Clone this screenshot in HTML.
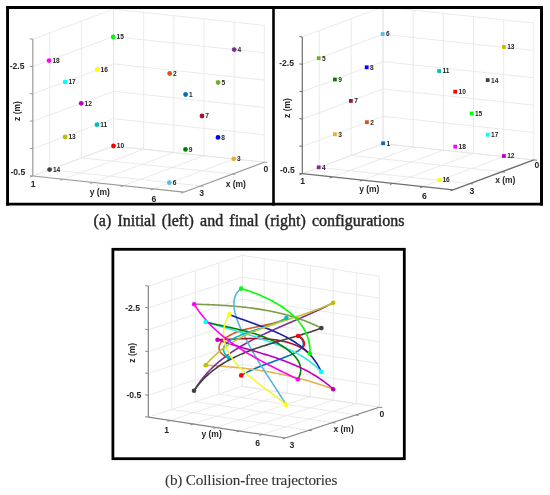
<!DOCTYPE html>
<html><head><meta charset="utf-8"><style>
html,body{margin:0;padding:0;background:#fff;}
body{width:550px;height:495px;position:relative;overflow:hidden;}
svg{position:absolute;left:0;top:0;}
svg text{font-family:"Liberation Sans",Arial,sans-serif;}
.cap{position:absolute;font-family:"Liberation Serif","Times New Roman",serif;color:#262626;-webkit-text-stroke:0.42px #262626;white-space:nowrap;line-height:1;}
</style></head><body>
<svg width="550" height="495" viewBox="0 0 550 495">
<line x1="32.8" y1="176" x2="113.5" y2="146" stroke="#e4e4e4" stroke-width="0.8"/>
<line x1="62.96" y1="179.24" x2="143.66" y2="149.24" stroke="#e4e4e4" stroke-width="0.8"/>
<line x1="93.12" y1="182.48" x2="173.82" y2="152.48" stroke="#e4e4e4" stroke-width="0.8"/>
<line x1="123.28" y1="185.72" x2="203.98" y2="155.72" stroke="#e4e4e4" stroke-width="0.8"/>
<line x1="153.44" y1="188.96" x2="234.14" y2="158.96" stroke="#e4e4e4" stroke-width="0.8"/>
<line x1="183.6" y1="192.2" x2="264.3" y2="162.2" stroke="#e4e4e4" stroke-width="0.8"/>
<line x1="49.75" y1="169.7" x2="200.55" y2="185.9" stroke="#e4e4e4" stroke-width="0.8"/>
<line x1="81.62" y1="157.85" x2="232.42" y2="174.05" stroke="#e4e4e4" stroke-width="0.8"/>
<line x1="113.5" y1="146" x2="264.3" y2="162.2" stroke="#e4e4e4" stroke-width="0.8"/>
<line x1="49.75" y1="169.7" x2="49.75" y2="32.9" stroke="#e4e4e4" stroke-width="0.8"/>
<line x1="81.62" y1="157.85" x2="81.62" y2="21.05" stroke="#e4e4e4" stroke-width="0.8"/>
<line x1="113.5" y1="146" x2="113.5" y2="9.2" stroke="#e4e4e4" stroke-width="0.8"/>
<line x1="32.8" y1="176" x2="113.5" y2="146" stroke="#e4e4e4" stroke-width="0.8"/>
<line x1="32.8" y1="148.64" x2="113.5" y2="118.64" stroke="#e4e4e4" stroke-width="0.8"/>
<line x1="32.8" y1="121.28" x2="113.5" y2="91.28" stroke="#e4e4e4" stroke-width="0.8"/>
<line x1="32.8" y1="93.92" x2="113.5" y2="63.92" stroke="#e4e4e4" stroke-width="0.8"/>
<line x1="32.8" y1="66.56" x2="113.5" y2="36.56" stroke="#e4e4e4" stroke-width="0.8"/>
<line x1="32.8" y1="39.2" x2="113.5" y2="9.2" stroke="#e4e4e4" stroke-width="0.8"/>
<line x1="113.5" y1="146" x2="113.5" y2="9.2" stroke="#e4e4e4" stroke-width="0.8"/>
<line x1="143.66" y1="149.24" x2="143.66" y2="12.44" stroke="#e4e4e4" stroke-width="0.8"/>
<line x1="173.82" y1="152.48" x2="173.82" y2="15.68" stroke="#e4e4e4" stroke-width="0.8"/>
<line x1="203.98" y1="155.72" x2="203.98" y2="18.92" stroke="#e4e4e4" stroke-width="0.8"/>
<line x1="234.14" y1="158.96" x2="234.14" y2="22.16" stroke="#e4e4e4" stroke-width="0.8"/>
<line x1="264.3" y1="162.2" x2="264.3" y2="25.4" stroke="#e4e4e4" stroke-width="0.8"/>
<line x1="113.5" y1="146" x2="264.3" y2="162.2" stroke="#e4e4e4" stroke-width="0.8"/>
<line x1="113.5" y1="118.64" x2="264.3" y2="134.84" stroke="#e4e4e4" stroke-width="0.8"/>
<line x1="113.5" y1="91.28" x2="264.3" y2="107.48" stroke="#e4e4e4" stroke-width="0.8"/>
<line x1="113.5" y1="63.92" x2="264.3" y2="80.12" stroke="#e4e4e4" stroke-width="0.8"/>
<line x1="113.5" y1="36.56" x2="264.3" y2="52.76" stroke="#e4e4e4" stroke-width="0.8"/>
<line x1="113.5" y1="9.2" x2="264.3" y2="25.4" stroke="#e4e4e4" stroke-width="0.8"/>
<line x1="32.8" y1="176" x2="32.8" y2="39.2" stroke="#9a9a9a" stroke-width="1.2"/>
<line x1="32.8" y1="176" x2="183.6" y2="192.2" stroke="#9a9a9a" stroke-width="1.2"/>
<line x1="183.6" y1="192.2" x2="264.3" y2="162.2" stroke="#9a9a9a" stroke-width="1.2"/>
<line x1="32.8" y1="176" x2="29.82" y2="175.68" stroke="#9a9a9a" stroke-width="1.0"/>
<line x1="32.8" y1="148.64" x2="29.82" y2="148.32" stroke="#9a9a9a" stroke-width="1.0"/>
<line x1="32.8" y1="121.28" x2="29.82" y2="120.96" stroke="#9a9a9a" stroke-width="1.0"/>
<line x1="32.8" y1="93.92" x2="29.82" y2="93.6" stroke="#9a9a9a" stroke-width="1.0"/>
<line x1="32.8" y1="66.56" x2="29.82" y2="66.24" stroke="#9a9a9a" stroke-width="1.0"/>
<line x1="32.8" y1="39.2" x2="29.82" y2="38.88" stroke="#9a9a9a" stroke-width="1.0"/>
<line x1="32.8" y1="176" x2="29.99" y2="177.05" stroke="#9a9a9a" stroke-width="1.0"/>
<line x1="62.96" y1="179.24" x2="60.15" y2="180.29" stroke="#9a9a9a" stroke-width="1.0"/>
<line x1="93.12" y1="182.48" x2="90.31" y2="183.53" stroke="#9a9a9a" stroke-width="1.0"/>
<line x1="123.28" y1="185.72" x2="120.47" y2="186.77" stroke="#9a9a9a" stroke-width="1.0"/>
<line x1="153.44" y1="188.96" x2="150.63" y2="190.01" stroke="#9a9a9a" stroke-width="1.0"/>
<line x1="183.6" y1="192.2" x2="180.79" y2="193.25" stroke="#9a9a9a" stroke-width="1.0"/>
<line x1="200.55" y1="185.9" x2="203.53" y2="186.22" stroke="#9a9a9a" stroke-width="1.0"/>
<line x1="232.42" y1="174.05" x2="235.41" y2="174.37" stroke="#9a9a9a" stroke-width="1.0"/>
<line x1="264.3" y1="162.2" x2="267.28" y2="162.52" stroke="#9a9a9a" stroke-width="1.0"/>
<text x="24.5" y="68.56" font-size="8.6" font-weight="bold" text-anchor="end" fill="#262626">-2.5</text>
<text x="25.2" y="175" font-size="8.6" font-weight="bold" text-anchor="end" fill="#262626">-0.5</text>
<text x="33.1" y="186.8" font-size="8.6" font-weight="bold" text-anchor="middle" fill="#262626">1</text>
<text x="153.94" y="201.96" font-size="8.6" font-weight="bold" text-anchor="middle" fill="#262626">6</text>
<text x="201.55" y="195.9" font-size="8.6" font-weight="bold" text-anchor="middle" fill="#262626">3</text>
<text x="266" y="171.8" font-size="8.6" font-weight="bold" text-anchor="middle" fill="#262626">0</text>
<text x="99.8" y="194.5" font-size="8.5" font-weight="bold" text-anchor="middle" fill="#262626">y (m)</text>
<text x="235.8" y="186.8" font-size="8.5" font-weight="bold" text-anchor="middle" fill="#262626">x (m)</text>
<text x="19.8" y="111" font-size="8.5" font-weight="bold" text-anchor="middle" fill="#262626" transform="rotate(-90 19.8 111)">z (m)</text>
<line x1="302.3" y1="173.7" x2="383" y2="143.7" stroke="#e4e4e4" stroke-width="0.8"/>
<line x1="332.46" y1="176.94" x2="413.16" y2="146.94" stroke="#e4e4e4" stroke-width="0.8"/>
<line x1="362.62" y1="180.18" x2="443.32" y2="150.18" stroke="#e4e4e4" stroke-width="0.8"/>
<line x1="392.78" y1="183.42" x2="473.48" y2="153.42" stroke="#e4e4e4" stroke-width="0.8"/>
<line x1="422.94" y1="186.66" x2="503.64" y2="156.66" stroke="#e4e4e4" stroke-width="0.8"/>
<line x1="453.1" y1="189.9" x2="533.8" y2="159.9" stroke="#e4e4e4" stroke-width="0.8"/>
<line x1="319.25" y1="167.4" x2="470.05" y2="183.6" stroke="#e4e4e4" stroke-width="0.8"/>
<line x1="351.12" y1="155.55" x2="501.92" y2="171.75" stroke="#e4e4e4" stroke-width="0.8"/>
<line x1="383" y1="143.7" x2="533.8" y2="159.9" stroke="#e4e4e4" stroke-width="0.8"/>
<line x1="319.25" y1="167.4" x2="319.25" y2="30.6" stroke="#e4e4e4" stroke-width="0.8"/>
<line x1="351.12" y1="155.55" x2="351.12" y2="18.75" stroke="#e4e4e4" stroke-width="0.8"/>
<line x1="383" y1="143.7" x2="383" y2="6.9" stroke="#e4e4e4" stroke-width="0.8"/>
<line x1="302.3" y1="173.7" x2="383" y2="143.7" stroke="#e4e4e4" stroke-width="0.8"/>
<line x1="302.3" y1="146.34" x2="383" y2="116.34" stroke="#e4e4e4" stroke-width="0.8"/>
<line x1="302.3" y1="118.98" x2="383" y2="88.98" stroke="#e4e4e4" stroke-width="0.8"/>
<line x1="302.3" y1="91.62" x2="383" y2="61.62" stroke="#e4e4e4" stroke-width="0.8"/>
<line x1="302.3" y1="64.26" x2="383" y2="34.26" stroke="#e4e4e4" stroke-width="0.8"/>
<line x1="302.3" y1="36.9" x2="383" y2="6.9" stroke="#e4e4e4" stroke-width="0.8"/>
<line x1="383" y1="143.7" x2="383" y2="6.9" stroke="#e4e4e4" stroke-width="0.8"/>
<line x1="413.16" y1="146.94" x2="413.16" y2="10.14" stroke="#e4e4e4" stroke-width="0.8"/>
<line x1="443.32" y1="150.18" x2="443.32" y2="13.38" stroke="#e4e4e4" stroke-width="0.8"/>
<line x1="473.48" y1="153.42" x2="473.48" y2="16.62" stroke="#e4e4e4" stroke-width="0.8"/>
<line x1="503.64" y1="156.66" x2="503.64" y2="19.86" stroke="#e4e4e4" stroke-width="0.8"/>
<line x1="533.8" y1="159.9" x2="533.8" y2="23.1" stroke="#e4e4e4" stroke-width="0.8"/>
<line x1="383" y1="143.7" x2="533.8" y2="159.9" stroke="#e4e4e4" stroke-width="0.8"/>
<line x1="383" y1="116.34" x2="533.8" y2="132.54" stroke="#e4e4e4" stroke-width="0.8"/>
<line x1="383" y1="88.98" x2="533.8" y2="105.18" stroke="#e4e4e4" stroke-width="0.8"/>
<line x1="383" y1="61.62" x2="533.8" y2="77.82" stroke="#e4e4e4" stroke-width="0.8"/>
<line x1="383" y1="34.26" x2="533.8" y2="50.46" stroke="#e4e4e4" stroke-width="0.8"/>
<line x1="383" y1="6.9" x2="533.8" y2="23.1" stroke="#e4e4e4" stroke-width="0.8"/>
<line x1="302.3" y1="173.7" x2="302.3" y2="36.9" stroke="#6e6e6e" stroke-width="1.2"/>
<line x1="302.3" y1="173.7" x2="453.1" y2="189.9" stroke="#6e6e6e" stroke-width="1.2"/>
<line x1="453.1" y1="189.9" x2="533.8" y2="159.9" stroke="#6e6e6e" stroke-width="1.2"/>
<line x1="302.3" y1="173.7" x2="299.32" y2="173.38" stroke="#6e6e6e" stroke-width="1.0"/>
<line x1="302.3" y1="146.34" x2="299.32" y2="146.02" stroke="#6e6e6e" stroke-width="1.0"/>
<line x1="302.3" y1="118.98" x2="299.32" y2="118.66" stroke="#6e6e6e" stroke-width="1.0"/>
<line x1="302.3" y1="91.62" x2="299.32" y2="91.3" stroke="#6e6e6e" stroke-width="1.0"/>
<line x1="302.3" y1="64.26" x2="299.32" y2="63.94" stroke="#6e6e6e" stroke-width="1.0"/>
<line x1="302.3" y1="36.9" x2="299.32" y2="36.58" stroke="#6e6e6e" stroke-width="1.0"/>
<line x1="302.3" y1="173.7" x2="299.49" y2="174.75" stroke="#6e6e6e" stroke-width="1.0"/>
<line x1="332.46" y1="176.94" x2="329.65" y2="177.99" stroke="#6e6e6e" stroke-width="1.0"/>
<line x1="362.62" y1="180.18" x2="359.81" y2="181.23" stroke="#6e6e6e" stroke-width="1.0"/>
<line x1="392.78" y1="183.42" x2="389.97" y2="184.47" stroke="#6e6e6e" stroke-width="1.0"/>
<line x1="422.94" y1="186.66" x2="420.13" y2="187.71" stroke="#6e6e6e" stroke-width="1.0"/>
<line x1="453.1" y1="189.9" x2="450.29" y2="190.95" stroke="#6e6e6e" stroke-width="1.0"/>
<line x1="470.05" y1="183.6" x2="473.03" y2="183.92" stroke="#6e6e6e" stroke-width="1.0"/>
<line x1="501.92" y1="171.75" x2="504.91" y2="172.07" stroke="#6e6e6e" stroke-width="1.0"/>
<line x1="533.8" y1="159.9" x2="536.78" y2="160.22" stroke="#6e6e6e" stroke-width="1.0"/>
<text x="294" y="66.26" font-size="8.6" font-weight="bold" text-anchor="end" fill="#262626">-2.5</text>
<text x="294.7" y="172.7" font-size="8.6" font-weight="bold" text-anchor="end" fill="#262626">-0.5</text>
<text x="302.6" y="183.5" font-size="8.6" font-weight="bold" text-anchor="middle" fill="#262626">1</text>
<text x="424.44" y="198.86" font-size="8.6" font-weight="bold" text-anchor="middle" fill="#262626">6</text>
<text x="471.85" y="193.6" font-size="8.6" font-weight="bold" text-anchor="middle" fill="#262626">3</text>
<text x="537" y="167.7" font-size="8.6" font-weight="bold" text-anchor="middle" fill="#262626">0</text>
<text x="369.3" y="192.2" font-size="8.5" font-weight="bold" text-anchor="middle" fill="#262626">y (m)</text>
<text x="505.3" y="182.5" font-size="8.5" font-weight="bold" text-anchor="middle" fill="#262626">x (m)</text>
<text x="290.1" y="108" font-size="8.5" font-weight="bold" text-anchor="middle" fill="#262626" transform="rotate(-90 290.1 108)">z (m)</text>
<circle cx="185.6" cy="94.5" r="2.4" fill="#0072BD"/>
<text x="188.9" y="96.9" font-size="6.6" font-weight="bold" text-anchor="start" fill="#262626">1</text>
<circle cx="169.7" cy="73.5" r="2.4" fill="#D95319"/>
<text x="173" y="75.9" font-size="6.6" font-weight="bold" text-anchor="start" fill="#262626">2</text>
<circle cx="233.8" cy="158.8" r="2.4" fill="#EDB120"/>
<text x="237.1" y="161.2" font-size="6.6" font-weight="bold" text-anchor="start" fill="#262626">3</text>
<circle cx="234.2" cy="49.6" r="2.4" fill="#7E2F8E"/>
<text x="237.5" y="52" font-size="6.6" font-weight="bold" text-anchor="start" fill="#262626">4</text>
<circle cx="218.1" cy="82.5" r="2.4" fill="#77AC30"/>
<text x="221.4" y="84.9" font-size="6.6" font-weight="bold" text-anchor="start" fill="#262626">5</text>
<circle cx="169.4" cy="182.7" r="2.4" fill="#4DBEEE"/>
<text x="172.7" y="185.1" font-size="6.6" font-weight="bold" text-anchor="start" fill="#262626">6</text>
<circle cx="202" cy="116" r="2.4" fill="#A2142F"/>
<text x="205.3" y="118.4" font-size="6.6" font-weight="bold" text-anchor="start" fill="#262626">7</text>
<circle cx="218" cy="137.4" r="2.4" fill="#0000FF"/>
<text x="221.3" y="139.8" font-size="6.6" font-weight="bold" text-anchor="start" fill="#262626">8</text>
<circle cx="185.5" cy="149.4" r="2.4" fill="#008000"/>
<text x="188.8" y="151.8" font-size="6.6" font-weight="bold" text-anchor="start" fill="#262626">9</text>
<circle cx="113.5" cy="146" r="2.4" fill="#FF0000"/>
<text x="116.8" y="148.4" font-size="6.6" font-weight="bold" text-anchor="start" fill="#262626">10</text>
<circle cx="97" cy="124.7" r="2.4" fill="#00BFBF"/>
<text x="100.3" y="127.1" font-size="6.6" font-weight="bold" text-anchor="start" fill="#262626">11</text>
<circle cx="81.2" cy="103.3" r="2.4" fill="#BF00BF"/>
<text x="84.5" y="105.7" font-size="6.6" font-weight="bold" text-anchor="start" fill="#262626">12</text>
<circle cx="65.1" cy="136.9" r="2.4" fill="#BFBF00"/>
<text x="68.4" y="139.3" font-size="6.6" font-weight="bold" text-anchor="start" fill="#262626">13</text>
<circle cx="49.6" cy="169.6" r="2.4" fill="#404040"/>
<text x="52.9" y="172" font-size="6.6" font-weight="bold" text-anchor="start" fill="#262626">14</text>
<circle cx="113.2" cy="36.9" r="2.4" fill="#00FF00"/>
<text x="116.5" y="39.3" font-size="6.6" font-weight="bold" text-anchor="start" fill="#262626">15</text>
<circle cx="97.2" cy="69.5" r="2.4" fill="#FFFF00"/>
<text x="100.5" y="71.9" font-size="6.6" font-weight="bold" text-anchor="start" fill="#262626">16</text>
<circle cx="65.1" cy="81.9" r="2.4" fill="#00FFFF"/>
<text x="68.4" y="84.3" font-size="6.6" font-weight="bold" text-anchor="start" fill="#262626">17</text>
<circle cx="49.1" cy="60.6" r="2.4" fill="#FF00FF"/>
<text x="52.4" y="63" font-size="6.6" font-weight="bold" text-anchor="start" fill="#262626">18</text>
<rect x="381.2" y="141.4" width="3.8" height="3.8" fill="#0072BD"/>
<text x="386.4" y="145.7" font-size="6.6" font-weight="bold" text-anchor="start" fill="#262626">1</text>
<rect x="365" y="120.3" width="3.8" height="3.8" fill="#D95319"/>
<text x="370.2" y="124.6" font-size="6.6" font-weight="bold" text-anchor="start" fill="#262626">2</text>
<rect x="333" y="132.3" width="3.8" height="3.8" fill="#EDB120"/>
<text x="338.2" y="136.6" font-size="6.6" font-weight="bold" text-anchor="start" fill="#262626">3</text>
<rect x="316.8" y="165.4" width="3.8" height="3.8" fill="#7E2F8E"/>
<text x="322" y="169.7" font-size="6.6" font-weight="bold" text-anchor="start" fill="#262626">4</text>
<rect x="316.8" y="56.3" width="3.8" height="3.8" fill="#77AC30"/>
<text x="322" y="60.6" font-size="6.6" font-weight="bold" text-anchor="start" fill="#262626">5</text>
<rect x="380.8" y="32.1" width="3.8" height="3.8" fill="#4DBEEE"/>
<text x="386" y="36.4" font-size="6.6" font-weight="bold" text-anchor="start" fill="#262626">6</text>
<rect x="349" y="99" width="3.8" height="3.8" fill="#A2142F"/>
<text x="354.2" y="103.3" font-size="6.6" font-weight="bold" text-anchor="start" fill="#262626">7</text>
<rect x="364.8" y="65.4" width="3.8" height="3.8" fill="#0000FF"/>
<text x="370" y="69.7" font-size="6.6" font-weight="bold" text-anchor="start" fill="#262626">8</text>
<rect x="333" y="77.6" width="3.8" height="3.8" fill="#008000"/>
<text x="338.2" y="81.9" font-size="6.6" font-weight="bold" text-anchor="start" fill="#262626">9</text>
<rect x="453.3" y="89.8" width="3.8" height="3.8" fill="#FF0000"/>
<text x="458.5" y="94.1" font-size="6.6" font-weight="bold" text-anchor="start" fill="#262626">10</text>
<rect x="437.2" y="69.1" width="3.8" height="3.8" fill="#00BFBF"/>
<text x="442.4" y="73.4" font-size="6.6" font-weight="bold" text-anchor="start" fill="#262626">11</text>
<rect x="502" y="154.1" width="3.8" height="3.8" fill="#BF00BF"/>
<text x="507.2" y="158.4" font-size="6.6" font-weight="bold" text-anchor="start" fill="#262626">12</text>
<rect x="502" y="45.1" width="3.8" height="3.8" fill="#BFBF00"/>
<text x="507.2" y="49.4" font-size="6.6" font-weight="bold" text-anchor="start" fill="#262626">13</text>
<rect x="485.8" y="78.2" width="3.8" height="3.8" fill="#404040"/>
<text x="491" y="82.5" font-size="6.6" font-weight="bold" text-anchor="start" fill="#262626">14</text>
<rect x="469.7" y="111.6" width="3.8" height="3.8" fill="#00FF00"/>
<text x="474.9" y="115.9" font-size="6.6" font-weight="bold" text-anchor="start" fill="#262626">15</text>
<rect x="437.2" y="178.1" width="3.8" height="3.8" fill="#FFFF00"/>
<text x="442.4" y="182.4" font-size="6.6" font-weight="bold" text-anchor="start" fill="#262626">16</text>
<rect x="485.8" y="132.8" width="3.8" height="3.8" fill="#00FFFF"/>
<text x="491" y="137.1" font-size="6.6" font-weight="bold" text-anchor="start" fill="#262626">17</text>
<rect x="453.3" y="144.7" width="3.8" height="3.8" fill="#FF00FF"/>
<text x="458.5" y="149" font-size="6.6" font-weight="bold" text-anchor="start" fill="#262626">18</text>
<line x1="170.22" y1="420.44" x2="264.22" y2="389.64" stroke="#e4e4e4" stroke-width="0.8"/>
<line x1="193.24" y1="423.96" x2="287.24" y2="393.16" stroke="#e4e4e4" stroke-width="0.8"/>
<line x1="216.25" y1="427.47" x2="310.25" y2="396.67" stroke="#e4e4e4" stroke-width="0.8"/>
<line x1="239.27" y1="430.98" x2="333.27" y2="400.18" stroke="#e4e4e4" stroke-width="0.8"/>
<line x1="262.28" y1="434.49" x2="356.28" y2="403.69" stroke="#e4e4e4" stroke-width="0.8"/>
<line x1="285.3" y1="438" x2="379.3" y2="407.2" stroke="#e4e4e4" stroke-width="0.8"/>
<line x1="171.8" y1="409.4" x2="308.8" y2="430.3" stroke="#e4e4e4" stroke-width="0.8"/>
<line x1="195.3" y1="401.7" x2="332.3" y2="422.6" stroke="#e4e4e4" stroke-width="0.8"/>
<line x1="218.8" y1="394" x2="355.8" y2="414.9" stroke="#e4e4e4" stroke-width="0.8"/>
<line x1="242.3" y1="386.3" x2="379.3" y2="407.2" stroke="#e4e4e4" stroke-width="0.8"/>
<line x1="171.8" y1="409.4" x2="171.8" y2="278.4" stroke="#e4e4e4" stroke-width="0.8"/>
<line x1="195.3" y1="401.7" x2="195.3" y2="270.7" stroke="#e4e4e4" stroke-width="0.8"/>
<line x1="218.8" y1="394" x2="218.8" y2="263" stroke="#e4e4e4" stroke-width="0.8"/>
<line x1="242.3" y1="386.3" x2="242.3" y2="255.3" stroke="#e4e4e4" stroke-width="0.8"/>
<line x1="148.3" y1="417.1" x2="242.3" y2="386.3" stroke="#e4e4e4" stroke-width="0.8"/>
<line x1="148.3" y1="395.27" x2="242.3" y2="364.47" stroke="#e4e4e4" stroke-width="0.8"/>
<line x1="148.3" y1="373.43" x2="242.3" y2="342.63" stroke="#e4e4e4" stroke-width="0.8"/>
<line x1="148.3" y1="351.6" x2="242.3" y2="320.8" stroke="#e4e4e4" stroke-width="0.8"/>
<line x1="148.3" y1="329.77" x2="242.3" y2="298.97" stroke="#e4e4e4" stroke-width="0.8"/>
<line x1="148.3" y1="307.93" x2="242.3" y2="277.13" stroke="#e4e4e4" stroke-width="0.8"/>
<line x1="148.3" y1="286.1" x2="242.3" y2="255.3" stroke="#e4e4e4" stroke-width="0.8"/>
<line x1="264.22" y1="389.64" x2="264.22" y2="258.64" stroke="#e4e4e4" stroke-width="0.8"/>
<line x1="287.24" y1="393.16" x2="287.24" y2="262.16" stroke="#e4e4e4" stroke-width="0.8"/>
<line x1="310.25" y1="396.67" x2="310.25" y2="265.67" stroke="#e4e4e4" stroke-width="0.8"/>
<line x1="333.27" y1="400.18" x2="333.27" y2="269.18" stroke="#e4e4e4" stroke-width="0.8"/>
<line x1="356.28" y1="403.69" x2="356.28" y2="272.69" stroke="#e4e4e4" stroke-width="0.8"/>
<line x1="379.3" y1="407.2" x2="379.3" y2="276.2" stroke="#e4e4e4" stroke-width="0.8"/>
<line x1="242.3" y1="386.3" x2="379.3" y2="407.2" stroke="#e4e4e4" stroke-width="0.8"/>
<line x1="242.3" y1="364.47" x2="379.3" y2="385.37" stroke="#e4e4e4" stroke-width="0.8"/>
<line x1="242.3" y1="342.63" x2="379.3" y2="363.53" stroke="#e4e4e4" stroke-width="0.8"/>
<line x1="242.3" y1="320.8" x2="379.3" y2="341.7" stroke="#e4e4e4" stroke-width="0.8"/>
<line x1="242.3" y1="298.97" x2="379.3" y2="319.87" stroke="#e4e4e4" stroke-width="0.8"/>
<line x1="242.3" y1="277.13" x2="379.3" y2="298.03" stroke="#e4e4e4" stroke-width="0.8"/>
<line x1="242.3" y1="255.3" x2="379.3" y2="276.2" stroke="#e4e4e4" stroke-width="0.8"/>
<line x1="148.3" y1="417.1" x2="148.3" y2="286.1" stroke="#858585" stroke-width="1.2"/>
<line x1="148.3" y1="417.1" x2="285.3" y2="438" stroke="#858585" stroke-width="1.2"/>
<line x1="285.3" y1="438" x2="379.3" y2="407.2" stroke="#858585" stroke-width="1.2"/>
<line x1="148.3" y1="417.1" x2="145.33" y2="416.65" stroke="#858585" stroke-width="1.0"/>
<line x1="148.3" y1="395.27" x2="145.33" y2="394.81" stroke="#858585" stroke-width="1.0"/>
<line x1="148.3" y1="373.43" x2="145.33" y2="372.98" stroke="#858585" stroke-width="1.0"/>
<line x1="148.3" y1="351.6" x2="145.33" y2="351.15" stroke="#858585" stroke-width="1.0"/>
<line x1="148.3" y1="329.77" x2="145.33" y2="329.31" stroke="#858585" stroke-width="1.0"/>
<line x1="148.3" y1="307.93" x2="145.33" y2="307.48" stroke="#858585" stroke-width="1.0"/>
<line x1="148.3" y1="286.1" x2="145.33" y2="285.65" stroke="#858585" stroke-width="1.0"/>
<line x1="170.22" y1="420.44" x2="167.37" y2="421.38" stroke="#858585" stroke-width="1.0"/>
<line x1="193.24" y1="423.96" x2="190.39" y2="424.89" stroke="#858585" stroke-width="1.0"/>
<line x1="216.25" y1="427.47" x2="213.4" y2="428.4" stroke="#858585" stroke-width="1.0"/>
<line x1="239.27" y1="430.98" x2="236.42" y2="431.91" stroke="#858585" stroke-width="1.0"/>
<line x1="262.28" y1="434.49" x2="259.43" y2="435.42" stroke="#858585" stroke-width="1.0"/>
<line x1="285.3" y1="438" x2="282.45" y2="438.93" stroke="#858585" stroke-width="1.0"/>
<line x1="308.8" y1="430.3" x2="311.77" y2="430.75" stroke="#858585" stroke-width="1.0"/>
<line x1="332.3" y1="422.6" x2="335.27" y2="423.05" stroke="#858585" stroke-width="1.0"/>
<line x1="355.8" y1="414.9" x2="358.77" y2="415.35" stroke="#858585" stroke-width="1.0"/>
<line x1="379.3" y1="407.2" x2="382.27" y2="407.65" stroke="#858585" stroke-width="1.0"/>
<text x="140" y="311" font-size="8.6" font-weight="bold" text-anchor="end" fill="#262626">-2.5</text>
<text x="141.2" y="398.3" font-size="8.6" font-weight="bold" text-anchor="end" fill="#262626">-0.5</text>
<text x="166.6" y="432.7" font-size="8.6" font-weight="bold" text-anchor="middle" fill="#262626">1</text>
<text x="257.6" y="446.3" font-size="8.6" font-weight="bold" text-anchor="middle" fill="#262626">6</text>
<text x="291.8" y="447.5" font-size="8.6" font-weight="bold" text-anchor="middle" fill="#262626">3</text>
<text x="381.9" y="416.8" font-size="8.6" font-weight="bold" text-anchor="middle" fill="#262626">0</text>
<text x="211.6" y="436.7" font-size="8.5" font-weight="bold" text-anchor="middle" fill="#262626">y (m)</text>
<text x="343.6" y="431.7" font-size="8.5" font-weight="bold" text-anchor="middle" fill="#262626">x (m)</text>
<text x="135" y="352.8" font-size="8.5" font-weight="bold" text-anchor="middle" fill="#262626" transform="rotate(-90 135 352.8)">z (m)</text>
<g stroke-linecap="round" stroke-linejoin="round">
<path d="M298.1,336 L299.23,336.85 L300.21,337.69 L301.04,338.53 L301.73,339.35 L302.29,340.16 L302.73,340.96 L303.04,341.75 L303.23,342.52 L303.32,343.28 L303.3,344.02 L303.18,344.75 L302.97,345.46 L302.67,346.16 L302.3,346.83 L301.84,347.49 L301.31,348.14 L300.72,348.76 L300.06,349.37 L299.35,349.97 L298.58,350.55 L297.76,351.11 L296.9,351.66 L295.99,352.2 L295.05,352.72 L294.07,353.23 L293.07,353.73 L292.04,354.21 L291,354.69 L289.94,355.15 L288.87,355.61 L287.79,356.05 L286.72,356.49 L285.64,356.92 L284.57,357.34 L283.51,357.75 L282.46,358.16 L281.41,358.55 L280.37,358.95 L279.34,359.33 L278.32,359.71 L277.3,360.09 L276.28,360.46 L275.28,360.83 L274.28,361.2 L273.28,361.56 L272.29,361.92 L271.31,362.27 L270.33,362.63 L269.35,362.98 L268.38,363.34 L267.42,363.69 L266.45,364.05 L265.5,364.4 L264.54,364.76 L263.59,365.12 L262.64,365.47 L261.7,365.84 L260.75,366.2 L259.81,366.57 L258.88,366.94 L257.94,367.32 L257.01,367.7 L256.07,368.09 L255.14,368.49 L254.21,368.89 L253.28,369.29 L252.36,369.71 L251.43,370.13 L250.5,370.56 L249.57,370.99 L248.65,371.44 L247.72,371.9 L246.79,372.37 L245.86,372.84 L244.93,373.33 L244,373.83 L243.07,374.34 L242.14,374.86 L241.2,375.4" fill="none" stroke="#0072BD" stroke-width="1.6"/>
<path d="M286.4,318.1 L285.4,318.64 L284.38,319.16 L283.36,319.65 L282.32,320.12 L281.27,320.57 L280.21,321 L279.13,321.4 L278.05,321.79 L276.96,322.16 L275.86,322.52 L274.75,322.86 L273.63,323.18 L272.5,323.49 L271.37,323.79 L270.23,324.07 L269.09,324.35 L267.94,324.61 L266.78,324.87 L265.62,325.12 L264.46,325.37 L263.29,325.6 L262.12,325.84 L260.95,326.07 L259.78,326.3 L258.61,326.53 L257.43,326.76 L256.26,326.99 L255.09,327.22 L253.92,327.45 L252.74,327.69 L251.58,327.93 L250.41,328.18 L249.25,328.44 L248.09,328.71 L246.94,328.98 L245.79,329.27 L244.64,329.56 L243.51,329.87 L242.38,330.2 L241.25,330.53 L240.13,330.89 L239.03,331.26 L237.93,331.65 L236.84,332.05 L235.75,332.48 L234.68,332.93 L233.62,333.4 L232.58,333.89 L231.54,334.4 L230.51,334.95 L229.5,335.51 L228.5,336.11 L227.52,336.73 L226.55,337.38 L225.61,338.06 L224.69,338.77 L223.81,339.5 L222.98,340.26 L222.21,341.04 L221.5,341.85 L220.86,342.67 L220.3,343.51 L219.83,344.37 L219.46,345.25 L219.19,346.14 L219.04,347.05 L219.01,347.97 L219.12,348.9 L219.36,349.84 L219.75,350.79 L220.28,351.74 L220.95,352.67 L221.75,353.58 L222.66,354.45 L223.7,355.27 L224.83,356.03 L226.07,356.71 L227.39,357.31 L228.8,357.8" fill="none" stroke="#D95319" stroke-width="1.6"/>
<path d="M333.2,389.2 L331.65,388.61 L330.09,388.03 L328.53,387.46 L326.97,386.9 L325.41,386.35 L323.85,385.8 L322.28,385.27 L320.71,384.74 L319.15,384.23 L317.58,383.72 L316,383.22 L314.43,382.72 L312.85,382.24 L311.28,381.76 L309.7,381.3 L308.12,380.84 L306.53,380.39 L304.95,379.94 L303.36,379.51 L301.78,379.08 L300.19,378.66 L298.6,378.25 L297,377.84 L295.41,377.45 L293.82,377.06 L292.22,376.67 L290.62,376.3 L289.02,375.93 L287.42,375.57 L285.82,375.22 L284.21,374.87 L282.6,374.53 L281,374.2 L279.39,373.88 L277.78,373.56 L276.17,373.25 L274.55,372.94 L272.94,372.64 L271.32,372.35 L269.71,372.07 L268.09,371.79 L266.47,371.51 L264.84,371.25 L263.22,370.99 L261.6,370.73 L259.97,370.48 L258.35,370.24 L256.72,370 L255.09,369.77 L253.46,369.55 L251.83,369.33 L250.19,369.12 L248.56,368.91 L246.93,368.7 L245.29,368.51 L243.65,368.32 L242.01,368.13 L240.37,367.95 L238.73,367.77 L237.09,367.6 L235.45,367.43 L233.8,367.27 L232.16,367.11 L230.51,366.96 L228.86,366.81 L227.22,366.67 L225.57,366.53 L223.92,366.4 L222.27,366.27 L220.61,366.14 L218.96,366.02 L217.31,365.91 L215.65,365.79 L213.99,365.69 L212.34,365.58 L210.68,365.48 L209.02,365.38 L207.36,365.29 L205.7,365.2" fill="none" stroke="#e2b450" stroke-width="1.6"/>
<path d="M333.2,302.7 L331.38,303.67 L329.55,304.62 L327.71,305.56 L325.86,306.49 L323.99,307.41 L322.12,308.32 L320.23,309.23 L318.33,310.12 L316.43,311.01 L314.51,311.89 L312.59,312.77 L310.66,313.64 L308.72,314.5 L306.78,315.36 L304.83,316.22 L302.87,317.07 L300.91,317.92 L298.95,318.77 L296.98,319.62 L295.01,320.46 L293.04,321.31 L291.06,322.16 L289.09,323 L287.11,323.85 L285.13,324.71 L283.16,325.56 L281.18,326.42 L279.21,327.28 L277.24,328.15 L275.27,329.02 L273.3,329.9 L271.34,330.78 L269.39,331.67 L267.43,332.57 L265.49,333.48 L263.55,334.4 L261.61,335.32 L259.69,336.26 L257.77,337.21 L255.86,338.17 L253.96,339.14 L252.06,340.12 L250.18,341.11 L248.31,342.12 L246.45,343.15 L244.6,344.19 L242.77,345.24 L240.95,346.31 L239.14,347.4 L237.34,348.5 L235.56,349.63 L233.8,350.77 L232.05,351.93 L230.32,353.11 L228.6,354.31 L226.9,355.53 L225.22,356.77 L223.56,358.04 L221.92,359.33 L220.3,360.64 L218.7,361.97 L217.12,363.33 L215.56,364.72 L214.02,366.13 L212.5,367.57 L211.01,369.03 L209.54,370.52 L208.1,372.04 L206.68,373.59 L205.29,375.17 L203.92,376.78 L202.58,378.42 L201.27,380.09 L199.99,381.79 L198.73,383.52 L197.5,385.29 L196.3,387.09 L195.13,388.93 L194,390.8" fill="none" stroke="#7E2F8E" stroke-width="1.6"/>
<path d="M321.4,328.1 L319.94,327.36 L318.46,326.64 L316.98,325.94 L315.5,325.25 L314,324.58 L312.5,323.92 L311,323.28 L309.49,322.65 L307.97,322.03 L306.44,321.43 L304.91,320.84 L303.38,320.27 L301.84,319.71 L300.29,319.16 L298.74,318.63 L297.18,318.11 L295.62,317.6 L294.05,317.11 L292.48,316.62 L290.9,316.15 L289.32,315.7 L287.73,315.25 L286.14,314.82 L284.55,314.39 L282.95,313.98 L281.35,313.58 L279.74,313.2 L278.13,312.82 L276.52,312.45 L274.9,312.1 L273.28,311.75 L271.66,311.42 L270.03,311.09 L268.4,310.78 L266.77,310.47 L265.14,310.18 L263.5,309.89 L261.86,309.62 L260.22,309.35 L258.58,309.09 L256.93,308.84 L255.28,308.6 L253.63,308.37 L251.98,308.15 L250.33,307.93 L248.68,307.72 L247.02,307.52 L245.37,307.33 L243.71,307.14 L242.05,306.97 L240.39,306.8 L238.73,306.63 L237.07,306.47 L235.41,306.32 L233.75,306.18 L232.09,306.04 L230.43,305.91 L228.77,305.78 L227.12,305.66 L225.46,305.55 L223.8,305.44 L222.14,305.34 L220.48,305.24 L218.83,305.14 L217.17,305.05 L215.52,304.97 L213.87,304.89 L212.22,304.81 L210.57,304.74 L208.92,304.67 L207.28,304.61 L205.63,304.54 L203.99,304.49 L202.35,304.43 L200.72,304.38 L199.08,304.33 L197.45,304.28 L195.83,304.24 L194.2,304.2" fill="none" stroke="#7d9c48" stroke-width="1.6"/>
<path d="M286.2,404.9 L285.28,403.39 L284.35,401.89 L283.43,400.4 L282.51,398.92 L281.58,397.45 L280.66,395.99 L279.74,394.54 L278.82,393.1 L277.9,391.66 L276.98,390.23 L276.06,388.81 L275.14,387.4 L274.23,385.99 L273.32,384.58 L272.41,383.18 L271.5,381.78 L270.59,380.39 L269.68,379 L268.78,377.61 L267.88,376.22 L266.98,374.83 L266.09,373.45 L265.19,372.06 L264.3,370.68 L263.42,369.29 L262.53,367.9 L261.65,366.51 L260.78,365.11 L259.9,363.71 L259.03,362.31 L258.17,360.91 L257.31,359.49 L256.45,358.08 L255.6,356.65 L254.75,355.22 L253.9,353.79 L253.06,352.34 L252.23,350.89 L251.4,349.43 L250.57,347.96 L249.75,346.48 L248.94,344.98 L248.13,343.48 L247.32,341.97 L246.52,340.44 L245.73,338.9 L244.94,337.35 L244.16,335.78 L243.39,334.2 L242.62,332.6 L241.86,330.99 L241.1,329.36 L240.36,327.72 L239.64,326.07 L238.93,324.41 L238.25,322.75 L237.61,321.08 L237,319.41 L236.43,317.74 L235.9,316.07 L235.43,314.41 L235.01,312.76 L234.65,311.12 L234.35,309.49 L234.12,307.88 L233.97,306.28 L233.89,304.71 L233.9,303.15 L234,301.62 L234.19,300.12 L234.48,298.65 L234.87,297.21 L235.37,295.82 L236,294.46 L236.75,293.16 L237.63,291.92 L238.67,290.74 L239.85,289.63 L241.2,288.6" fill="none" stroke="#58b6dc" stroke-width="1.6"/>
<path d="M309.8,353.5 L308.84,352.75 L307.87,352.03 L306.89,351.33 L305.89,350.65 L304.89,350 L303.88,349.37 L302.85,348.76 L301.82,348.17 L300.78,347.61 L299.73,347.06 L298.66,346.54 L297.6,346.04 L296.52,345.56 L295.43,345.1 L294.34,344.65 L293.23,344.23 L292.12,343.83 L291.01,343.44 L289.88,343.07 L288.75,342.72 L287.61,342.39 L286.46,342.07 L285.31,341.77 L284.16,341.49 L282.99,341.22 L281.82,340.96 L280.65,340.73 L279.47,340.5 L278.28,340.29 L277.09,340.1 L275.9,339.91 L274.7,339.75 L273.5,339.59 L272.29,339.45 L271.08,339.31 L269.86,339.19 L268.65,339.08 L267.43,338.98 L266.2,338.9 L264.98,338.82 L263.75,338.75 L262.52,338.69 L261.29,338.64 L260.05,338.6 L258.82,338.57 L257.58,338.54 L256.34,338.53 L255.1,338.52 L253.86,338.51 L252.62,338.51 L251.38,338.52 L250.14,338.54 L248.9,338.56 L247.67,338.58 L246.43,338.61 L245.19,338.64 L243.95,338.68 L242.72,338.72 L241.49,338.77 L240.25,338.81 L239.03,338.86 L237.8,338.91 L236.57,338.96 L235.35,339.02 L234.13,339.07 L232.92,339.12 L231.7,339.18 L230.5,339.23 L229.29,339.29 L228.09,339.34 L226.89,339.39 L225.7,339.44 L224.51,339.48 L223.33,339.53 L222.15,339.57 L220.98,339.61 L219.82,339.64 L218.66,339.67 L217.5,339.7" fill="none" stroke="#A2142F" stroke-width="1.6"/>
<path d="M321.2,371.9 L320.6,370.55 L319.97,369.23 L319.31,367.93 L318.63,366.66 L317.92,365.41 L317.19,364.19 L316.44,363 L315.66,361.82 L314.86,360.67 L314.03,359.55 L313.18,358.44 L312.31,357.36 L311.42,356.3 L310.51,355.27 L309.58,354.25 L308.63,353.25 L307.66,352.28 L306.67,351.32 L305.66,350.38 L304.63,349.47 L303.59,348.57 L302.53,347.69 L301.45,346.82 L300.35,345.98 L299.24,345.15 L298.12,344.34 L296.98,343.54 L295.83,342.76 L294.66,342 L293.48,341.25 L292.29,340.52 L291.08,339.79 L289.86,339.09 L288.64,338.39 L287.4,337.71 L286.15,337.05 L284.89,336.39 L283.62,335.75 L282.34,335.11 L281.05,334.49 L279.76,333.88 L278.46,333.28 L277.15,332.69 L275.83,332.1 L274.51,331.53 L273.19,330.97 L271.85,330.41 L270.52,329.86 L269.18,329.32 L267.83,328.78 L266.48,328.25 L265.13,327.73 L263.78,327.21 L262.43,326.7 L261.07,326.19 L259.72,325.69 L258.36,325.19 L257,324.7 L255.65,324.2 L254.29,323.71 L252.94,323.23 L251.59,322.74 L250.24,322.26 L248.89,321.78 L247.55,321.29 L246.21,320.81 L244.88,320.33 L243.55,319.85 L242.23,319.37 L240.91,318.88 L239.6,318.4 L238.3,317.91 L237,317.42 L235.71,316.93 L234.43,316.43 L233.16,315.93 L231.9,315.42 L230.64,314.91 L229.4,314.4" fill="none" stroke="#1e1ea8" stroke-width="1.6"/>
<path d="M205.6,322 L207.11,322.44 L208.62,322.89 L210.14,323.33 L211.66,323.78 L213.19,324.22 L214.72,324.67 L216.25,325.11 L217.79,325.56 L219.33,326 L220.87,326.45 L222.41,326.9 L223.96,327.35 L225.51,327.8 L227.06,328.25 L228.61,328.7 L230.17,329.15 L231.72,329.61 L233.28,330.07 L234.84,330.53 L236.4,330.99 L237.96,331.46 L239.52,331.93 L241.08,332.4 L242.64,332.87 L244.2,333.35 L245.76,333.83 L247.32,334.32 L248.88,334.8 L250.44,335.3 L252,335.79 L253.56,336.29 L255.11,336.8 L256.67,337.31 L258.22,337.82 L259.77,338.34 L261.32,338.86 L262.87,339.39 L264.41,339.93 L265.96,340.47 L267.5,341.01 L269.03,341.56 L270.57,342.12 L272.1,342.69 L273.62,343.26 L275.15,343.83 L276.66,344.42 L278.18,345.01 L279.69,345.6 L281.2,346.21 L282.69,346.82 L284.19,347.45 L285.67,348.08 L287.15,348.73 L288.63,349.39 L290.09,350.06 L291.54,350.74 L292.99,351.44 L294.42,352.15 L295.84,352.88 L297.26,353.63 L298.66,354.39 L300.04,355.17 L301.42,355.97 L302.78,356.79 L304.13,357.63 L305.46,358.49 L306.78,359.37 L308.08,360.27 L309.37,361.2 L310.63,362.15 L311.89,363.12 L313.12,364.12 L314.33,365.15 L315.53,366.2 L316.71,367.28 L317.86,368.39 L319,369.53 L320.11,370.7 L321.2,371.9" fill="none" stroke="#2ee8e8" stroke-width="1.6"/>
<path d="M297.9,379.3 L298.76,377.71 L299.46,376.15 L300,374.62 L300.38,373.12 L300.63,371.65 L300.73,370.21 L300.71,368.8 L300.56,367.41 L300.3,366.06 L299.92,364.73 L299.44,363.44 L298.86,362.17 L298.2,360.93 L297.45,359.72 L296.62,358.53 L295.72,357.38 L294.76,356.25 L293.74,355.15 L292.67,354.08 L291.56,353.04 L290.41,352.02 L289.23,351.03 L288.03,350.07 L286.81,349.13 L285.56,348.22 L284.29,347.33 L283.01,346.47 L281.7,345.64 L280.38,344.83 L279.04,344.04 L277.68,343.27 L276.3,342.52 L274.91,341.8 L273.5,341.1 L272.08,340.42 L270.64,339.75 L269.19,339.11 L267.73,338.49 L266.26,337.88 L264.78,337.29 L263.28,336.72 L261.78,336.16 L260.26,335.62 L258.74,335.1 L257.21,334.59 L255.68,334.09 L254.14,333.61 L252.59,333.14 L251.04,332.69 L249.48,332.24 L247.92,331.81 L246.36,331.39 L244.79,330.97 L243.22,330.57 L241.66,330.18 L240.09,329.79 L238.52,329.42 L236.96,329.05 L235.39,328.68 L233.83,328.33 L232.27,327.98 L230.72,327.63 L229.17,327.29 L227.63,326.95 L226.09,326.62 L224.56,326.29 L223.04,325.96 L221.52,325.63 L220.02,325.31 L218.52,324.98 L217.04,324.66 L215.56,324.33 L214.1,324.01 L212.65,323.68 L211.21,323.35 L209.79,323.02 L208.38,322.68 L206.98,322.34 L205.6,322" fill="none" stroke="#008000" stroke-width="1.6"/>
<path d="M303,347.5 L303.13,347.33 L303.25,347.16 L303.37,346.99 L303.48,346.82 L303.58,346.64 L303.67,346.47 L303.76,346.29 L303.84,346.12 L303.92,345.94 L303.98,345.76 L304.05,345.59 L304.1,345.41 L304.15,345.23 L304.19,345.05 L304.23,344.87 L304.26,344.69 L304.29,344.51 L304.31,344.34 L304.32,344.16 L304.33,343.98 L304.34,343.8 L304.33,343.62 L304.33,343.44 L304.31,343.26 L304.3,343.09 L304.27,342.91 L304.24,342.73 L304.21,342.56 L304.17,342.38 L304.13,342.21 L304.09,342.03 L304.03,341.86 L303.98,341.69 L303.92,341.52 L303.85,341.35 L303.78,341.18 L303.71,341.02 L303.64,340.85 L303.55,340.69 L303.47,340.52 L303.38,340.36 L303.29,340.2 L303.19,340.04 L303.1,339.89 L302.99,339.73 L302.89,339.58 L302.78,339.43 L302.67,339.28 L302.55,339.13 L302.43,338.99 L302.31,338.84 L302.19,338.7 L302.06,338.57 L301.93,338.43 L301.8,338.3 L301.67,338.17 L301.53,338.04 L301.39,337.91 L301.25,337.79 L301.11,337.67 L300.96,337.55 L300.81,337.44 L300.67,337.32 L300.51,337.22 L300.36,337.11 L300.21,337.01 L300.05,336.91 L299.9,336.81 L299.74,336.72 L299.58,336.63 L299.42,336.55 L299.26,336.47 L299.09,336.39 L298.93,336.31 L298.76,336.24 L298.6,336.18 L298.43,336.11 L298.27,336.05 L298.1,336" fill="none" stroke="#FF0000" stroke-width="1.6"/>
<path d="M228.8,357.8 L227.67,356.81 L226.68,355.84 L225.84,354.89 L225.13,353.96 L224.55,353.06 L224.1,352.18 L223.78,351.32 L223.56,350.48 L223.46,349.66 L223.46,348.86 L223.56,348.08 L223.76,347.32 L224.05,346.58 L224.42,345.86 L224.87,345.16 L225.39,344.48 L225.98,343.81 L226.63,343.16 L227.34,342.53 L228.1,341.91 L228.91,341.31 L229.76,340.73 L230.65,340.16 L231.57,339.61 L232.51,339.08 L233.47,338.55 L234.45,338.04 L235.44,337.55 L236.44,337.07 L237.44,336.6 L238.44,336.15 L239.45,335.7 L240.46,335.27 L241.47,334.85 L242.49,334.44 L243.51,334.04 L244.53,333.64 L245.56,333.26 L246.59,332.88 L247.62,332.52 L248.65,332.15 L249.68,331.8 L250.71,331.45 L251.75,331.11 L252.78,330.77 L253.81,330.43 L254.85,330.1 L255.88,329.77 L256.92,329.44 L257.95,329.12 L258.98,328.8 L260.01,328.48 L261.04,328.15 L262.07,327.83 L263.09,327.51 L264.12,327.19 L265.14,326.86 L266.16,326.53 L267.17,326.2 L268.18,325.87 L269.19,325.53 L270.19,325.18 L271.19,324.84 L272.19,324.48 L273.18,324.12 L274.16,323.75 L275.14,323.38 L276.12,322.99 L277.08,322.6 L278.05,322.2 L279,321.79 L279.95,321.37 L280.9,320.94 L281.83,320.5 L282.76,320.04 L283.68,319.58 L284.6,319.1 L285.5,318.61 L286.4,318.1" fill="none" stroke="#00BFBF" stroke-width="1.6"/>
<circle cx="228.8" cy="357.8" r="2.3" fill="#00BFBF"/>
<path d="M217.5,339.7 L219.01,340.23 L220.51,340.75 L222.03,341.27 L223.54,341.77 L225.06,342.27 L226.59,342.77 L228.11,343.26 L229.64,343.75 L231.17,344.23 L232.71,344.7 L234.24,345.17 L235.78,345.64 L237.32,346.11 L238.86,346.57 L240.4,347.03 L241.94,347.49 L243.49,347.95 L245.03,348.4 L246.58,348.86 L248.12,349.31 L249.67,349.77 L251.22,350.22 L252.76,350.68 L254.31,351.13 L255.85,351.59 L257.4,352.05 L258.94,352.51 L260.48,352.98 L262.02,353.45 L263.56,353.92 L265.1,354.39 L266.64,354.87 L268.17,355.36 L269.7,355.85 L271.23,356.34 L272.76,356.84 L274.28,357.35 L275.8,357.86 L277.32,358.38 L278.83,358.9 L280.34,359.44 L281.85,359.98 L283.35,360.53 L284.85,361.09 L286.34,361.66 L287.83,362.24 L289.32,362.83 L290.8,363.42 L292.27,364.03 L293.74,364.65 L295.21,365.29 L296.67,365.93 L298.12,366.59 L299.56,367.25 L301,367.94 L302.44,368.63 L303.87,369.34 L305.29,370.06 L306.7,370.8 L308.1,371.55 L309.5,372.32 L310.89,373.1 L312.28,373.9 L313.65,374.72 L315.02,375.55 L316.38,376.4 L317.73,377.27 L319.07,378.16 L320.4,379.06 L321.73,379.98 L323.04,380.93 L324.35,381.89 L325.64,382.87 L326.93,383.87 L328.2,384.9 L329.47,385.94 L330.72,387.01 L331.97,388.09 L333.2,389.2" fill="none" stroke="#BF00BF" stroke-width="1.6"/>
<path d="M205.7,365.2 L206.88,363.75 L208.09,362.34 L209.33,360.96 L210.58,359.61 L211.85,358.29 L213.15,357.01 L214.46,355.75 L215.79,354.52 L217.15,353.32 L218.52,352.15 L219.91,351 L221.32,349.88 L222.74,348.79 L224.18,347.72 L225.64,346.68 L227.12,345.66 L228.61,344.67 L230.11,343.7 L231.64,342.75 L233.17,341.82 L234.72,340.91 L236.28,340.02 L237.86,339.16 L239.44,338.31 L241.04,337.48 L242.66,336.67 L244.28,335.87 L245.91,335.09 L247.56,334.33 L249.21,333.58 L250.87,332.85 L252.55,332.13 L254.23,331.43 L255.92,330.74 L257.61,330.06 L259.32,329.39 L261.03,328.73 L262.75,328.09 L264.47,327.45 L266.2,326.82 L267.93,326.2 L269.67,325.59 L271.41,324.98 L273.16,324.39 L274.91,323.79 L276.66,323.21 L278.42,322.62 L280.18,322.05 L281.93,321.47 L283.69,320.9 L285.45,320.33 L287.21,319.76 L288.97,319.19 L290.73,318.63 L292.49,318.06 L294.25,317.49 L296,316.92 L297.76,316.35 L299.5,315.77 L301.25,315.19 L302.99,314.61 L304.73,314.02 L306.46,313.43 L308.19,312.83 L309.91,312.22 L311.63,311.61 L313.34,310.99 L315.04,310.36 L316.74,309.72 L318.43,309.08 L320.11,308.42 L321.78,307.75 L323.44,307.07 L325.09,306.37 L326.74,305.67 L328.37,304.95 L329.99,304.21 L331.6,303.46 L333.2,302.7" fill="none" stroke="#c4c030" stroke-width="1.6"/>
<path d="M194,390.8 L195.08,389.23 L196.19,387.7 L197.32,386.21 L198.48,384.74 L199.66,383.32 L200.87,381.92 L202.1,380.55 L203.35,379.22 L204.63,377.92 L205.92,376.65 L207.24,375.41 L208.58,374.19 L209.94,373.01 L211.33,371.85 L212.73,370.72 L214.15,369.62 L215.59,368.54 L217.04,367.49 L218.52,366.46 L220.01,365.46 L221.52,364.48 L223.04,363.53 L224.58,362.59 L226.14,361.68 L227.71,360.79 L229.3,359.93 L230.9,359.08 L232.51,358.25 L234.14,357.44 L235.78,356.65 L237.43,355.87 L239.09,355.12 L240.76,354.38 L242.45,353.65 L244.14,352.94 L245.84,352.25 L247.56,351.57 L249.28,350.91 L251.01,350.25 L252.74,349.61 L254.49,348.99 L256.24,348.37 L258,347.76 L259.76,347.17 L261.53,346.58 L263.3,346 L265.08,345.44 L266.86,344.87 L268.65,344.32 L270.43,343.77 L272.22,343.23 L274.02,342.69 L275.81,342.16 L277.61,341.64 L279.4,341.11 L281.2,340.59 L282.99,340.07 L284.79,339.56 L286.58,339.04 L288.37,338.53 L290.16,338.02 L291.94,337.5 L293.72,336.99 L295.5,336.47 L297.28,335.95 L299.05,335.43 L300.81,334.9 L302.57,334.37 L304.32,333.83 L306.07,333.29 L307.81,332.75 L309.54,332.2 L311.26,331.64 L312.97,331.07 L314.68,330.49 L316.37,329.91 L318.06,329.32 L319.73,328.71 L321.4,328.1" fill="none" stroke="#404040" stroke-width="1.6"/>
<path d="M241.2,288.6 L242.34,288.93 L243.48,289.28 L244.64,289.64 L245.8,290 L246.97,290.38 L248.15,290.77 L249.33,291.17 L250.53,291.59 L251.72,292.01 L252.93,292.45 L254.13,292.9 L255.34,293.35 L256.55,293.83 L257.77,294.31 L258.98,294.8 L260.2,295.31 L261.42,295.83 L262.64,296.36 L263.85,296.9 L265.07,297.46 L266.28,298.02 L267.49,298.6 L268.69,299.19 L269.89,299.8 L271.09,300.41 L272.28,301.04 L273.46,301.68 L274.64,302.33 L275.81,303 L276.97,303.68 L278.12,304.37 L279.26,305.07 L280.39,305.79 L281.51,306.52 L282.62,307.26 L283.71,308.02 L284.8,308.79 L285.87,309.57 L286.92,310.36 L287.96,311.17 L288.99,311.99 L290,312.82 L290.99,313.67 L291.96,314.53 L292.92,315.41 L293.85,316.29 L294.77,317.2 L295.67,318.11 L296.54,319.04 L297.39,319.98 L298.23,320.94 L299.04,321.91 L299.82,322.89 L300.58,323.89 L301.32,324.9 L302.03,325.93 L302.71,326.96 L303.37,328.02 L304,329.09 L304.6,330.17 L305.18,331.26 L305.72,332.38 L306.23,333.5 L306.72,334.64 L307.17,335.79 L307.59,336.96 L307.97,338.15 L308.32,339.34 L308.64,340.56 L308.93,341.78 L309.17,343.02 L309.39,344.28 L309.56,345.55 L309.7,346.84 L309.8,348.14 L309.86,349.46 L309.88,350.79 L309.86,352.14 L309.8,353.5" fill="none" stroke="#00FF00" stroke-width="1.6"/>
<path d="M229.4,314.4 L228.51,315.88 L227.7,317.37 L226.97,318.85 L226.31,320.32 L225.72,321.79 L225.21,323.26 L224.77,324.72 L224.39,326.18 L224.08,327.62 L223.84,329.07 L223.67,330.5 L223.55,331.93 L223.5,333.35 L223.51,334.77 L223.58,336.17 L223.7,337.57 L223.88,338.96 L224.11,340.33 L224.4,341.7 L224.74,343.06 L225.12,344.41 L225.56,345.75 L226.04,347.07 L226.57,348.39 L227.14,349.69 L227.75,350.98 L228.4,352.25 L229.09,353.52 L229.82,354.77 L230.59,356 L231.39,357.23 L232.22,358.43 L233.09,359.63 L233.98,360.81 L234.91,361.98 L235.86,363.13 L236.85,364.28 L237.85,365.41 L238.89,366.53 L239.94,367.64 L241.02,368.73 L242.12,369.82 L243.24,370.89 L244.38,371.96 L245.53,373.01 L246.71,374.06 L247.89,375.09 L249.09,376.12 L250.3,377.14 L251.53,378.14 L252.76,379.14 L254,380.14 L255.25,381.12 L256.5,382.1 L257.76,383.07 L259.03,384.03 L260.29,384.98 L261.56,385.93 L262.82,386.88 L264.09,387.81 L265.35,388.75 L266.61,389.67 L267.86,390.59 L269.11,391.51 L270.35,392.42 L271.58,393.33 L272.8,394.24 L274.01,395.14 L275.2,396.04 L276.39,396.93 L277.55,397.82 L278.7,398.71 L279.84,399.6 L280.95,400.49 L282.05,401.37 L283.12,402.25 L284.17,403.14 L285.2,404.02 L286.2,404.9" fill="none" stroke="#f6f634" stroke-width="1.6"/>
<path d="M194.2,304.2 L195.09,305.62 L196,307.01 L196.92,308.4 L197.86,309.76 L198.82,311.11 L199.8,312.44 L200.8,313.75 L201.81,315.05 L202.83,316.33 L203.88,317.59 L204.94,318.84 L206.01,320.07 L207.1,321.29 L208.2,322.49 L209.32,323.68 L210.45,324.86 L211.6,326.02 L212.76,327.16 L213.93,328.29 L215.12,329.41 L216.32,330.51 L217.53,331.6 L218.75,332.68 L219.99,333.75 L221.24,334.8 L222.5,335.84 L223.77,336.87 L225.05,337.89 L226.34,338.89 L227.64,339.88 L228.95,340.87 L230.27,341.84 L231.6,342.8 L232.94,343.75 L234.29,344.69 L235.64,345.62 L237.01,346.54 L238.38,347.45 L239.76,348.35 L241.15,349.24 L242.54,350.12 L243.94,351 L245.35,351.86 L246.77,352.72 L248.19,353.57 L249.61,354.41 L251.04,355.25 L252.48,356.07 L253.92,356.89 L255.36,357.7 L256.81,358.51 L258.26,359.31 L259.72,360.1 L261.18,360.89 L262.64,361.67 L264.11,362.45 L265.58,363.22 L267.05,363.99 L268.52,364.75 L269.99,365.5 L271.46,366.26 L272.94,367 L274.42,367.75 L275.89,368.49 L277.37,369.22 L278.85,369.96 L280.32,370.69 L281.8,371.42 L283.27,372.14 L284.75,372.86 L286.22,373.59 L287.69,374.3 L289.16,375.02 L290.62,375.74 L292.08,376.45 L293.54,377.16 L295,377.88 L296.45,378.59 L297.9,379.3" fill="none" stroke="#FF00FF" stroke-width="1.6"/>
<circle cx="298.1" cy="336" r="2.3" fill="#FF0000"/>
<circle cx="286.4" cy="318.1" r="2.3" fill="#00BFBF"/>
<circle cx="333.2" cy="389.2" r="2.3" fill="#BF00BF"/>
<circle cx="333.2" cy="302.7" r="2.3" fill="#BFBF00"/>
<circle cx="321.4" cy="328.1" r="2.3" fill="#404040"/>
<circle cx="286.2" cy="404.9" r="2.3" fill="#FFFF00"/>
<circle cx="309.8" cy="353.5" r="2.3" fill="#00FF00"/>
<circle cx="321.2" cy="371.9" r="2.3" fill="#00FFFF"/>
<circle cx="297.9" cy="379.3" r="2.3" fill="#FF00FF"/>
<circle cx="241.2" cy="375.4" r="2.3" fill="#FF0000"/>
<circle cx="217.5" cy="339.7" r="2.3" fill="#BF00BF"/>
<circle cx="205.7" cy="365.2" r="2.3" fill="#BFBF00"/>
<circle cx="194" cy="390.8" r="2.3" fill="#404040"/>
<circle cx="241.2" cy="288.6" r="2.3" fill="#00FF00"/>
<circle cx="229.4" cy="314.4" r="2.3" fill="#FFFF00"/>
<circle cx="205.6" cy="322" r="2.3" fill="#00FFFF"/>
<circle cx="194.2" cy="304.2" r="2.3" fill="#FF00FF"/>
</g>
<line x1="6" y1="7.45" x2="543" y2="7.45" stroke="#000" stroke-width="2.9"/>
<line x1="7.55" y1="6" x2="7.55" y2="205.6" stroke="#000" stroke-width="2.9"/>
<line x1="541.5" y1="6" x2="541.5" y2="205.6" stroke="#000" stroke-width="3.0"/>
<line x1="6" y1="204.1" x2="543" y2="204.1" stroke="#000" stroke-width="2.9"/>
<line x1="273.5" y1="6" x2="273.5" y2="205.6" stroke="#000" stroke-width="2.6"/>
<rect x="112.9" y="249.3" width="291.4" height="209.4" fill="none" stroke="#000" stroke-width="2.8"/>
</svg>
<div class="cap" id="capa" style="left:93.5px;top:212.5px;font-size:16px;word-spacing:2.2px;">(a) Initial (left) and final (right) configurations</div>
<div class="cap" id="capb" style="left:165px;top:472.4px;font-size:15.2px;letter-spacing:-0.16px;-webkit-text-stroke:0.1px #333;color:#333;">(b) Collision-free trajectories</div>
</body></html>
